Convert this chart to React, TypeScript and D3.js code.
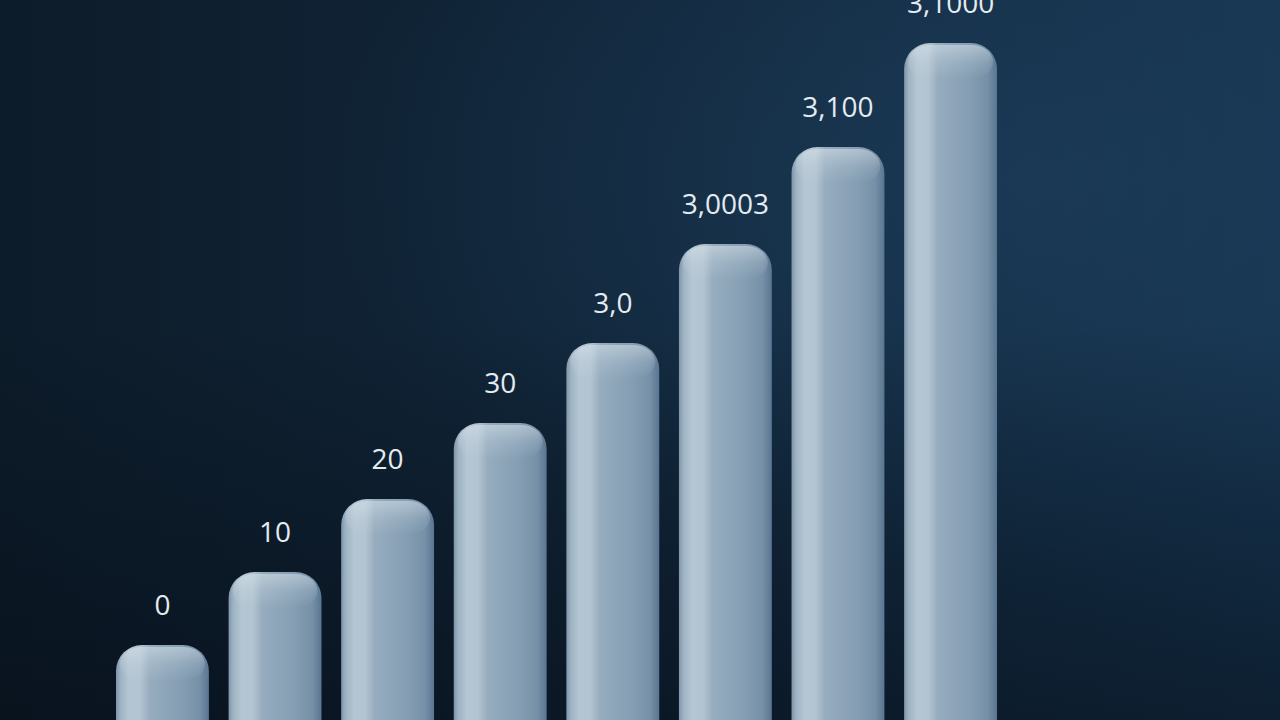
import React from "react";
import * as d3 from "d3";

const categories = ["B1", "B2", "B3", "B4", "B5", "B6", "B7", "B8"];
const values = [75, 148, 221, 297, 377, 476, 573, 677];
const valueLabels = ["0", "10", "20", "30", "3,0", "3,0003", "3,100", "3,1000"];

const W = 1280;
const H = 720;

export default function App() {
  const x = d3.scaleBand<string>().domain(categories).range([116, 997]).paddingInner(0.175).paddingOuter(0);
  const y = d3.scaleLinear().domain([0, 700]).range([H, H - 700]);
  const bw = x.bandwidth();
  const r = 26;

  return (
    <div style={{ position: "fixed", left: 0, top: 0, width: W, height: H, overflow: "hidden" }}>
      <svg width={W} height={H} style={{ display: "block" }}>
        <defs>
          <linearGradient id="bg" x1="0" y1="0" x2="1" y2="0">
            <stop offset="0" stopColor="#0d1c2a" />
            <stop offset="0.5" stopColor="#11263a" />
            <stop offset="1" stopColor="#173652" />
          </linearGradient>
          <radialGradient id="glow" cx="0.8" cy="0.25" r="0.55">
            <stop offset="0" stopColor="#1d3d5a" stopOpacity="0.7" />
            <stop offset="1" stopColor="#1d3d5a" stopOpacity="0" />
          </radialGradient>
          <linearGradient id="shade" x1="0" y1="0" x2="0" y2="1">
            <stop offset="0.45" stopColor="#050c15" stopOpacity="0" />
            <stop offset="1" stopColor="#050c15" stopOpacity="0.55" />
          </linearGradient>
          <linearGradient id="bar" x1="0" y1="0" x2="1" y2="0">
            <stop offset="0" stopColor="#7e95a9" />
            <stop offset="0.05" stopColor="#9fb3c3" />
            <stop offset="0.14" stopColor="#b4c6d3" />
            <stop offset="0.26" stopColor="#b2c4d1" />
            <stop offset="0.36" stopColor="#97adbf" />
            <stop offset="0.7" stopColor="#859eb3" />
            <stop offset="0.9" stopColor="#7690a8" />
            <stop offset="1" stopColor="#5a7590" />
          </linearGradient>
          <linearGradient id="cap" x1="0" y1="0" x2="0" y2="1">
            <stop offset="0" stopColor="#dce6ed" stopOpacity="0.5" />
            <stop offset="0.5" stopColor="#dce6ed" stopOpacity="0.18" />
            <stop offset="1" stopColor="#dce6ed" stopOpacity="0" />
          </linearGradient>
        </defs>
        <rect x={0} y={0} width={W} height={H} fill="url(#bg)" />
        <rect x={0} y={0} width={W} height={H} fill="url(#glow)" />
        <rect x={0} y={0} width={W} height={H} fill="url(#shade)" />
        {categories.map((c, i) => {
          const x0 = x(c) as number;
          const top = y(values[i]);
          const h = H - top + r + 10;
          return (
            <g key={c}>
              <rect x={x0} y={top} width={bw} height={h} rx={r} ry={r} fill="url(#bar)" />
              <rect x={x0 + 4} y={top + 2} width={bw - 8} height={34} rx={r - 4} ry={r - 4} fill="url(#cap)" />
              <text
                x={x0 + bw / 2}
                y={top - 30}
                textAnchor="middle"
                fill="#e4ebf1"
                fontFamily="'Open Sans', 'DejaVu Sans', sans-serif"
                fontSize={28}
              >
                {valueLabels[i]}
              </text>
            </g>
          );
        })}
      </svg>
    </div>
  );
}
